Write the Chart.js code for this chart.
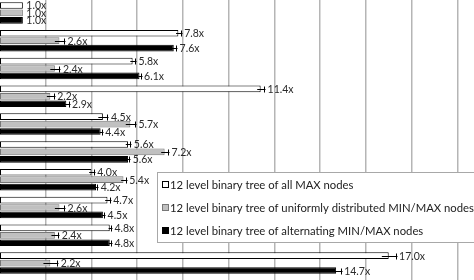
<!DOCTYPE html>
<html>
<head>
<meta charset="utf-8">
<script src="https://cdn.jsdelivr.net/npm/chart.js@4.4.1/dist/chart.umd.min.js"></script>
<style>
  html, body { margin: 0; padding: 0; background: #fff; }
  #wrap { position: relative; width: 474px; height: 280px; overflow: hidden; }
  #speedup { position: absolute; left: 0; top: -1px; }
</style>
</head>
<body>
<div id="wrap"><canvas id="speedup" width="474" height="290"></canvas></div>
<script>
// categories are cut off in the picture, so plain indices
const categories = ['1', '2', '3', '4', '5', '6', '7', '8', '9', '10'];

const seriesNames = [
  '12 level binary tree of all MAX nodes',
  '12 level binary tree of uniformly distributed MIN/MAX nodes',
  '12 level binary tree of alternating MIN/MAX nodes'
];

// speedup values (x)
const allMax      = [1.0, 7.8, 5.8, 11.4, 4.5, 5.6, 4.0, 4.7, 4.8, 17.0];
const uniformMix  = [1.0, 2.6, 2.4, 2.2, 5.7, 7.2, 5.4, 2.6, 2.4, 2.2];
const alternating = [1.0, 7.6, 6.1, 2.9, 4.4, 5.6, 4.2, 4.5, 4.8, 14.7];

// error bar half widths
const allMaxErr      = [0, 0.1, 0.1, 0.15, 0.2, 0.1, 0.1, 0.1, 0.05, 0.3];
const uniformMixErr  = [0, 0.2, 0.2, 0.15, 0.2, 0.15, 0.1, 0.2, 0.15, 0.3];
const alternatingErr = [0, 0.1, 0.05, 0.1, 0.05, 0.05, 0.05, 0.05, 0.05, 0.2];

const xTicks = [2, 4, 6, 8, 10, 12, 14, 16, 18, 20];

const fills   = ['#ffffff', '#c0c0c0', '#000000'];
const borders = ['#000000', '#777777', '#000000'];

// whiskers + "N.Nx" labels
const errorBars = {
  id: 'errorBars',
  afterDatasetsDraw(chart) {
    const ctx = chart.ctx;
    const xs = chart.scales.x;
    ctx.save();
    chart.data.datasets.forEach((ds, i) => {
      const meta = chart.getDatasetMeta(i);
      meta.data.forEach((bar, j) => {
        const v = ds.data[j], e = ds.errors[j];
        const x1 = xs.getPixelForValue(v - e);
        const x2 = xs.getPixelForValue(v + e);
        const y = Math.round(bar.y) + 0.5;
        if (e > 0) {
          const cx = Math.round(x2) + 0.5;
          ctx.strokeStyle = '#000';
          ctx.lineWidth = 1;
          ctx.beginPath();
          ctx.moveTo(x1, y); ctx.lineTo(cx + 1, y);
          ctx.moveTo(cx, y - 3); ctx.lineTo(cx, y + 3);
          ctx.stroke();
        }
        ctx.fillStyle = '#2a2a2a';
        ctx.font = '10.5px Lato';
        ctx.textBaseline = 'middle';
        ctx.fillText(v.toFixed(1) + 'x', x2 + 3.5, y + 0.5);
      });
    });
    ctx.restore();
  }
};

// legend box sitting over the lower right of the plot
const boxLegend = {
  id: 'boxLegend',
  afterDraw(chart) {
    const ctx = chart.ctx;
    const top = 173.5, left = 157.5;
    ctx.save();
    ctx.fillStyle = '#fff';
    ctx.strokeStyle = '#a8a8a8';
    ctx.lineWidth = 1;
    ctx.fillRect(left, top, 340, 70);
    ctx.strokeRect(left, top, 340, 70);
    chart.data.datasets.forEach((ds, i) => {
      const y = top + 12.5 + i * 23.2;
      ctx.fillStyle = ds.backgroundColor;
      ctx.fillRect(162.5, Math.round(y) - 3.5, 6, 6);
      ctx.strokeStyle = ds.borderColor;
      ctx.strokeRect(162.5, Math.round(y) - 3.5, 6, 6);
      ctx.fillStyle = '#222';
      ctx.font = '11.3px Lato';
      ctx.textBaseline = 'middle';
      ctx.fillText(ds.label, 170, y);
    });
    ctx.restore();
  }
};

const series = [allMax, uniformMix, alternating];
const errs = [allMaxErr, uniformMixErr, alternatingErr];

new Chart(document.getElementById('speedup'), {
  type: 'bar',
  data: {
    labels: categories,
    datasets: series.map((d, i) => ({
      label: seriesNames[i],
      data: d,
      errors: errs[i],
      backgroundColor: fills[i],
      borderColor: borders[i],
      borderWidth: 1,
      borderSkipped: false,
      categoryPercentage: 0.8,
      barPercentage: 0.9
    }))
  },
  options: {
    indexAxis: 'y',
    responsive: false,
    devicePixelRatio: 1,
    animation: false,
    layout: { padding: 0 },
    plugins: { legend: { display: false }, tooltip: { enabled: false } },
    scales: {
      x: {
        min: 0,
        max: 20.73,
        afterBuildTicks: (s) => { s.ticks = xTicks.map(v => ({ value: v })); },
        afterFit: (s) => { s.height = 12; },
        ticks: { display: false },
        border: { display: false },
        grid: { color: '#b5b5b5', lineWidth: 1.5, tickLength: 12 }
      },
      y: { display: false }
    }
  },
  plugins: [errorBars, boxLegend]
});
</script>
</body>
</html>
